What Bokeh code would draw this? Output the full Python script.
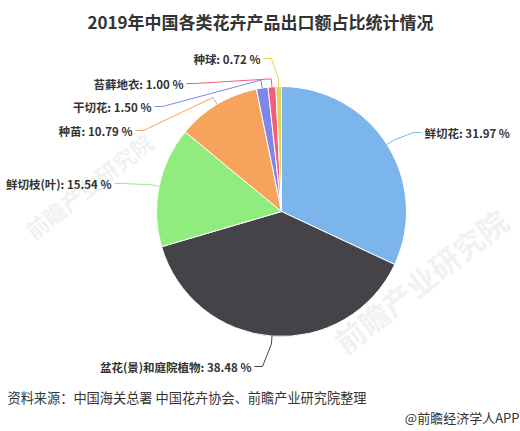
import math
from bokeh.plotting import figure
from bokeh.models import Range1d, ColumnDataSource
from bokeh.core.properties import value
from bokeh.embed import file_html
from bokeh.resources import INLINE

# ---- data ----
names = ["鲜切花", "盆花(景)和庭院植物", "鲜切枝(叶)", "种苗", "干切花", "苔藓地衣", "种球"]
shares = [31.97, 38.48, 15.54, 10.79, 1.50, 1.00, 0.72]
colors = ["#7cb5ec", "#434348", "#90ed7d", "#f7a35c", "#8085e9", "#f15c80", "#e4d354"]
title_text = "2019年中国各类花卉产品出口额占比统计情况"
source_text = "资料来源：中国海关总署 中国花卉协会、前瞻产业研究院整理"
credit_text = "@前瞻经济学人APP"

# ---- layout (pixel space, y measured from top) ----
W, H = 520, 431
CX, CY, R = 281, 211, 125
# label anchor points (where connector meets label) and side
label_anchor = [(421, 132), (254, 366), (114, 183), (135, 130), (154, 106), (186, 83), (263, 58)]
label_side = ["right", "left", "left", "left", "left", "left", "left"]

FONT = "Noto Sans CJK SC"

p = figure(width=W, height=H, output_backend="svg", toolbar_location=None,
           x_range=Range1d(0, W), y_range=Range1d(0, H),
           x_axis_type=None, y_axis_type=None, min_border=0)
p.outline_line_color = None
p.grid.visible = False
p.background_fill_color = "white"
p.border_fill_color = "white"

def Y(y):
    return H - y

# faint watermarks
wm = dict(text_color="#d8d8d8", text_alpha=0.35, text_font=value(FONT),
          text_font_style="bold", text_align="center", text_baseline="middle")
p.text(x=[88], y=[Y(185)], text=["前瞻产业研究院"], angle=[math.radians(38)], text_font_size="22px", **wm)
p.text(x=[420], y=[Y(280)], text=["前瞻产业研究院"], angle=[math.radians(38)], text_font_size="30px", **wm)

# wedges
total = sum(shares)
starts, ends, mids = [], [], []
cum = 0.0
for s in shares:
    a0 = cum / total * 2 * math.pi
    cum += s
    a1 = cum / total * 2 * math.pi
    starts.append(math.pi / 2 - a0)
    ends.append(math.pi / 2 - a1)
    mids.append((a0 + a1) / 2)  # clockwise from top

src = ColumnDataSource(dict(start=starts, end=ends, color=colors, name=names, share=shares))
p.wedge(x=CX, y=Y(CY), radius=R, start_angle="start", end_angle="end", direction="clock",
        fill_color="color", line_color="white", line_width=1, source=src)

# connectors
xs, ys = [], []
for m, (ax, ay), side in zip(mids, label_anchor, label_side):
    ex, ey = CX + R * math.sin(m), CY - R * math.cos(m)
    bx, by = CX + (R + 8) * math.sin(m), CY - (R + 8) * math.cos(m)
    step = 8 if side == "left" else -8
    pts = [(ax, ay), (ax + step, ay), (bx, by), (ex, ey)]
    xs.append([q[0] for q in pts])
    ys.append([Y(q[1]) for q in pts])
p.multi_line(xs=xs, ys=ys, line_color=colors, line_width=1)

# labels
for n, s, (ax, ay), side in zip(names, shares, label_anchor, label_side):
    tx = ax - 3 if side == "left" else ax + 3
    p.text(x=[tx], y=[Y(ay)], text=[f"{n}: {s:.2f} %"], text_align="right" if side == "left" else "left",
           text_baseline="middle", text_font=value(FONT), text_font_size="11.5px",
           text_font_style="bold", text_color="#333333")

# title / source / credit
p.text(x=[W / 2], y=[Y(21)], text=[title_text], text_align="center", text_baseline="middle",
       text_font=value(FONT), text_font_size="17px", text_font_style="bold", text_color="#333333")
p.text(x=[7], y=[Y(397)], text=[source_text], text_align="left", text_baseline="middle",
       text_font=value(FONT), text_font_size="13.2px", text_color="#333333")
p.text(x=[519], y=[Y(417)], text=[credit_text], text_align="right", text_baseline="middle",
       text_font=value(FONT), text_font_size="13px", text_color="#333333")

open("out.html", "w").write(file_html(p, INLINE))
